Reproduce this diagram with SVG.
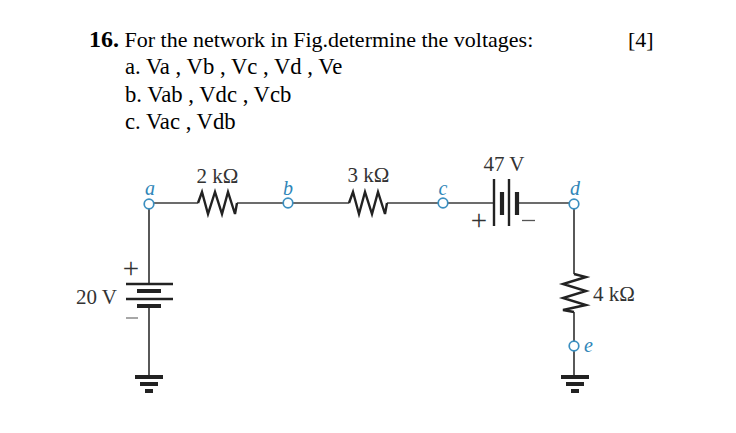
<svg xmlns="http://www.w3.org/2000/svg" width="736" height="433" viewBox="0 0 736 433">
<style>
.t{font-family:"Liberation Serif","Times New Roman",serif;font-size:22px;fill:#000}
.i{font-size:22.7px}
.l{font-family:"Liberation Serif","Times New Roman",serif;font-size:21px;fill:#333}
.p{font-size:29px}
.n{font-family:"Liberation Serif","Times New Roman",serif;font-size:20px;font-style:italic;fill:#2f86b8}
.w{fill:none;stroke:#3c3c3c;stroke-width:1.7}
.z{fill:none;stroke:#222;stroke-width:2.4;stroke-linejoin:miter}
.b{stroke:#222;stroke-width:2.4;fill:none}
.s{stroke:#222;stroke-width:4.2;fill:none}
.o{fill:#fff;stroke:#3b8fc0;stroke-width:1.7}
</style>
<rect width="736" height="433" fill="#fff"/>
<g id="text">
<text class="t" x="89" y="47"><tspan font-weight="bold" font-size="24">16.</tspan> For the network in Fig.determine the voltages:</text>
<text class="t i" x="125" y="74">a. Va , Vb , Vc , Vd , Ve</text>
<text class="t i" x="125" y="102">b. Vab , Vdc , Vcb</text>
<text class="t i" x="125" y="129">c. Vac , Vdb</text>
<text class="t" x="628" y="47">[4]</text>
</g>
<g id="connectors">
<path class="w" d="M149 204V284M149 306V377"/>
<path class="w" d="M149 203H198M237 203H288M288 203H349M387 203H443M443 203H494M517 203H574"/>
<path class="w" d="M574 204V274M574 312V346M574 346V377"/>
</g>
<g id="r1"><path class="z" d="M198 203L202 192L208 214L215 192L222 214L228 192L235 214L237 203"/><text class="l" x="217.500" y="183" text-anchor="middle">2 kΩ</text></g>
<g id="r2"><path class="z" d="M349 203L353 192L359 214L365 192L372 214L378 192L385 214L387 203"/><text class="l" x="368.500" y="182" text-anchor="middle">3 kΩ</text></g>
<g id="r3"><path class="z" d="M574 274L586 277L563 284L586 291L563 298L586 305L563 310L574 312"/><text class="l" x="593" y="301">4 kΩ</text></g>
<g id="v47">
<path class="b" d="M494 179V226M509 179V226"/><path class="s" d="M502 192V215M517 192V215"/>
<text class="l" x="504" y="171" text-anchor="middle">47 V</text>
<text class="l p" x="479" y="229.500" text-anchor="middle">+</text>
<path d="M522 220.500H535" stroke="#555" stroke-width="1.300"/>
</g>
<g id="v20">
<path class="b" d="M126 284H173M126 299H173"/><path class="s" d="M137 291H161M137 306H161"/>
<text class="l" x="76" y="304">20 V</text>
<text class="l p" x="131" y="278" text-anchor="middle">+</text>
<path d="M126 318H138" stroke="#777" stroke-width="1.300"/>
</g>
<g id="gnd1"><path class="s" d="M135 377H163M140 384H158M145 391H153"/></g>
<g id="gnd2"><path class="s" d="M561 377H589M566 384H584M571 391H579"/></g>
<g id="a"><circle class="o" cx="149" cy="204" r="4.800"/><text class="n" x="150" y="195" text-anchor="middle">a</text></g>
<g id="b"><circle class="o" cx="288" cy="203" r="4.800"/><text class="n" x="288" y="195" text-anchor="middle">b</text></g>
<g id="c"><circle class="o" cx="443" cy="203" r="4.800"/><text class="n" x="443" y="195" text-anchor="middle">c</text></g>
<g id="d"><circle class="o" cx="574" cy="204" r="4.800"/><text class="n" x="575" y="195" text-anchor="middle">d</text></g>
<g id="e"><circle class="o" cx="574" cy="346" r="4.800"/><text class="n" x="584" y="352">e</text></g>
</svg>
